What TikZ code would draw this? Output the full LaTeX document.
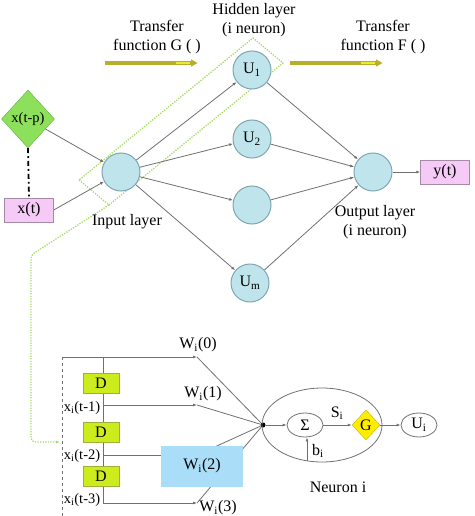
\documentclass[tikz,border=0pt]{standalone}
\usepackage{fontspec}
\setmainfont{Liberation Serif}
\usetikzlibrary{shapes.geometric,arrows.meta}
\definecolor{cellblue}{HTML}{C0E4EC}
\definecolor{cellrim}{HTML}{7FA6B0}
\definecolor{leafgreen}{HTML}{8CE05C}
\definecolor{leafrim}{HTML}{62B23E}
\definecolor{pinkbox}{HTML}{F6CAF6}
\definecolor{pinkrim}{HTML}{A68AA6}
\definecolor{delaycol}{HTML}{CCEC1E}
\definecolor{delayrim}{HTML}{9EB03A}
\definecolor{wblue}{HTML}{AADDF8}
\definecolor{gyellow}{HTML}{FFEC00}
\definecolor{grim}{HTML}{C8B000}
\definecolor{dotgreen}{HTML}{A6DC66}
\definecolor{tfcol}{HTML}{B8AE2C}
\definecolor{tfhi}{HTML}{EEE830}
\definecolor{wire}{HTML}{707070}

\begin{document}
\begin{tikzpicture}[x=1pt,y=-1pt,font=\fontsize{16}{19}\selectfont,
  cell/.style={circle,draw=cellrim,line width=1pt,fill=cellblue,minimum size=38pt,inner sep=0pt},
  pinkbox/.style={rectangle,draw=pinkrim,fill=pinkbox,minimum width=49pt,minimum height=24pt,inner sep=0pt},
  delay/.style={rectangle,draw=delayrim,fill=delaycol,minimum width=36pt,minimum height=20pt,inner sep=0pt},
  conn/.style={draw=wire,line width=0.8pt,-{Latex[length=4pt,width=3pt]}},
  wline/.style={draw=wire,line width=0.8pt},
  oval/.style={ellipse,draw=wire,line width=0.8pt,minimum width=36pt,minimum height=24pt,inner sep=0pt},
  transfer/.style={draw=tfcol,line width=4.5pt,-{Triangle[length=14pt,width=0pt 1]}},
  callout/.style={draw=dotgreen,line width=1.3pt,dash pattern=on 1.3pt off 1.3pt}]
\useasboundingbox (0,0) rectangle (474,516);

% top network
\draw[callout] (79,180) -- (109,205) -- (283,63) -- (253,38) -- cycle;
\draw[callout,rounded corners=4pt,-{Latex[length=4pt,width=3pt]}] (109,205) -- (31,255) -- (31,442) -- (60,442);

\node (hidlbl) at (254,20) [align=center] {Hidden layer\\(i neuron)};
\node (glbl) at (157,37) [align=center] {Transfer\\function G ( )};
\node (flbl) at (383,37) [align=center] {Transfer\\function F ( )};

\coordinate (gtail) at (105,63);
\coordinate (ghead) at (205,63);
\coordinate (ftail) at (290,63);
\coordinate (fhead) at (390,63);
\draw[transfer] (gtail) -- (ghead);
\draw[draw=tfhi,line width=2pt] (176,63) -- (190,63);
\draw[transfer] (ftail) -- (fhead);
\draw[draw=tfhi,line width=2pt] (361,63) -- (375,63);

\node[diamond,draw=leafrim,fill=leafgreen,minimum width=53pt,minimum height=58pt,inner sep=0pt,font=\fontsize{14.5}{17}\selectfont] (xtp) at (28,119) {x(t-p)};
\node[pinkbox] (xt) at (29,210) {x(t)};
\draw[line width=1.8pt,dash pattern=on 5pt off 3pt on 1.8pt off 3pt] (xtp.south) -- (xt.north);

\node[cell] (in) at (121,172) {};
\node[cell] (u1) at (252,70) {U\textsubscript{1}};
\node[cell] (u2) at (252,139) {U\textsubscript{2}};
\node[cell] (u3) at (252,205) {};
\node[cell] (um) at (250,283) {U\textsubscript{m}};
\node[cell] (out) at (373,172) {};
\node[pinkbox] (yt) at (445,172) {y(t)};

\node (inlbl) at (127,222) {Input layer};
\node (outlbl) at (375,222) [align=center] {Output layer\\(i neuron)};

\draw[conn] (xtp) -- (in);
\draw[conn] (xt.east) -- (in);
\foreach \h in {u1,u2,u3,um} {
  \draw[conn] (in) -- (\h);
  \draw[conn] (\h) -- (out);
}
\draw[conn] (out) -- (yt);

% neuron detail
\coordinate (bus) at (62,357);
\coordinate (tap) at (103,357);
\coordinate (t1) at (103,405);
\coordinate (t2) at (103,455);
\coordinate (t3) at (103,503);
\coordinate (w0) at (197,357);
\coordinate (w1) at (197,405);
\coordinate (w2) at (197,455);
\coordinate (w3) at (197,503);
\draw[draw=wire,line width=0.8pt,dashed] (bus) -- (62,516);
\draw[wline] (tap) -- (t3);
\draw[conn] (bus) -- (w0);
\draw[conn] (t1) -- (w1);
\draw[conn] (t2) -- (w2);
\draw[conn] (t3) -- (w3);

\node[circle,fill=black,inner sep=0pt,minimum size=5pt] (j) at (263,425) {};
\foreach \w in {w0,w1,w2,w3}
  \draw[wline] (\w) -- (j);

\node[delay] (d1) at (101,383) {D};
\node[delay] (d2) at (101,432) {D};
\node[delay] (d3) at (101,476) {D};
\node[fill=wblue,minimum width=82pt,minimum height=41pt,inner sep=0pt] (wtwo) at (202,466) {W\textsubscript{i}(2)};

\node[font=\fontsize{14.5}{16}\selectfont] (x1lbl) at (82,408) {x\textsubscript{i}(t-1)};
\node[font=\fontsize{14.5}{16}\selectfont] (x2lbl) at (82,456) {x\textsubscript{i}(t-2)};
\node[font=\fontsize{14.5}{16}\selectfont] (x3lbl) at (82,500) {x\textsubscript{i}(t-3)};
\node (w0lbl) at (198,345) {W\textsubscript{i}(0)};
\node (w1lbl) at (203,394) {W\textsubscript{i}(1)};
\node (w3lbl) at (218,508) {W\textsubscript{i}(3)};

\node[oval,minimum width=120pt,minimum height=74pt] (neuron) at (322,425) {};
\node[oval] (sum) at (305,425) {Σ};
\node[diamond,draw=grim,fill=gyellow,minimum width=28pt,minimum height=30pt,inner sep=0pt] (g) at (366,425) {G};
\node[oval] (ui) at (419,425) {U\textsubscript{i}};
\coordinate (bias) at (307,461);
\node (si) at (337,413) {S\textsubscript{i}};
\node (bi) at (318,451) {b\textsubscript{i}};
\node (nlbl) at (338,487) {Neuron i};

\draw[conn] (j) -- (sum);
\draw[conn] (sum) -- (g);
\draw[conn] (g) -- (ui);
\draw[conn] (bias) -- (sum.south -| bias);
\end{tikzpicture}
\end{document}
